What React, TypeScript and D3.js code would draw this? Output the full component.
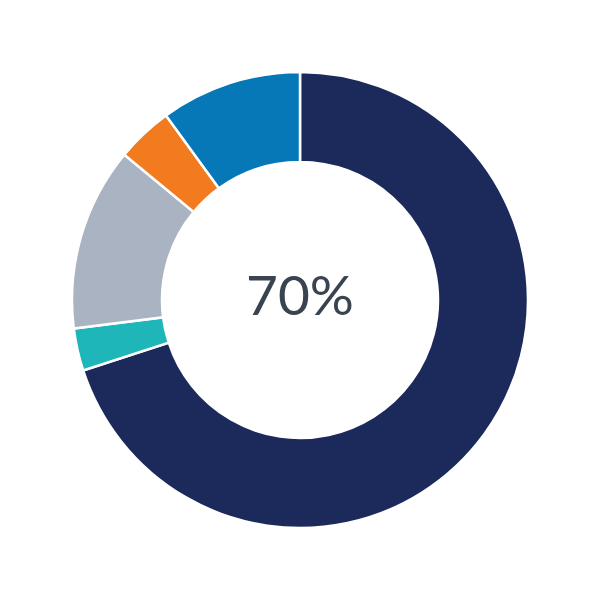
import { useEffect, useRef } from 'react';
import * as d3 from 'd3';

const labels = ['Navy', 'Teal', 'Gray', 'Orange', 'Blue'];
const values = [70, 3, 13, 4, 10];
const colors = ['#1b2a5b', '#1fb6b9', '#a9b3c1', '#f27b1f', '#0677b7'];
const centerLabel = '70%';

export default function App() {
  const svgRef = useRef<SVGSVGElement>(null);
  const width = 600;
  const height = 600;

  useEffect(() => {
    if (!svgRef.current) return;
    const svg = d3.select(svgRef.current);
    svg.selectAll('*').remove();

    const outer = 228;
    const inner = 138;

    const pie = d3.pie<number>().sort(null).value(d => d);
    const arc = d3.arc<d3.PieArcDatum<number>>().innerRadius(inner).outerRadius(outer);

    const g = svg.append('g').attr('transform', `translate(${width / 2},${height / 2})`);

    g.selectAll('path')
      .data(pie(values))
      .join('path')
      .attr('d', arc)
      .attr('fill', (_d, i) => colors[i])
      .attr('stroke', '#ffffff')
      .attr('stroke-width', 2.5)
      .append('title')
      .text((d, i) => `${labels[i]}: ${d.data}%`);

    g.append('text')
      .attr('x', 0)
      .attr('y', 15)
      .attr('text-anchor', 'middle')
      .attr('font-family', 'Lato, sans-serif')
      .attr('font-size', 55)
      .attr('fill', '#3a4450')
      .text(centerLabel);
  }, []);

  return (
    <svg
      ref={svgRef}
      width={width}
      height={height}
      style={{ position: 'absolute', left: 0, top: 0, background: '#ffffff' }}
    />
  );
}
